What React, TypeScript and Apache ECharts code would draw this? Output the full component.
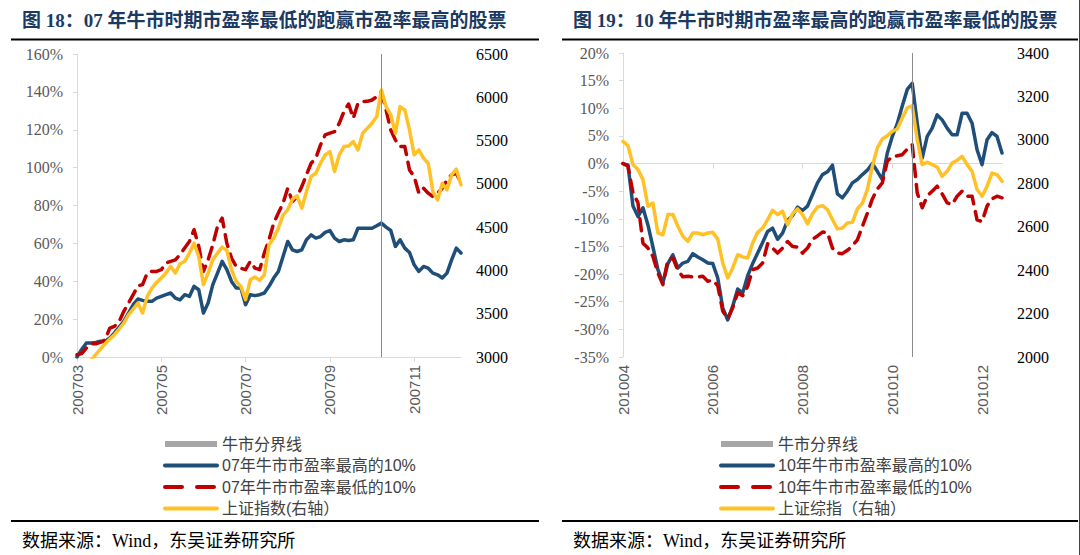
import React, { useEffect, useRef } from "react";
import * as echarts from "echarts";

// Sampling days within each month (uniform spacing on the category axis)
const DAYS = ["01", "04", "08", "11", "15", "18", "22", "25", "29"];

// ---- 2007 bull market ----
const MONTHS_2007 = ["03", "04", "05", "06", "07", "08", "09", "10", "11"];
const TAIL_2007 = ["12-01", "12-04"];
const LABEL_MONTHS_2007 = ["03", "05", "07", "09", "11"];
const DIVIDER_2007 = "2007-10-08";

const HIGH_PE_07 = [
  0, 4, 7.4, 7.4, 7.7, 8.3, 8.3, 10, 12.7, 15.8,
  18.8, 23.2, 27.6, 30.6, 29.9, 29.4, 29.4, 31.1, 32, 32.9,
  33.8, 31.1, 30.2, 32.9, 32, 37.3, 35.5, 23.2, 28.5, 38.2,
  44.3, 50.5, 46.1, 39.9, 36.4, 36.4, 27.6, 32.9, 32.4, 32.9,
  33.8, 37.3, 41.7, 45.2, 53.1, 61, 56.6, 55.7, 56.6, 61.9,
  64.5, 62.8, 63.6, 65.8, 66.8, 62.8, 61, 61.9, 61.5, 61.9,
  68, 68, 68, 68, 69.3, 70.7, 68.6, 66.8, 58.4, 61.9,
  57.5, 55.2, 48.7, 45.2, 47.8, 46.9, 44.3, 43.4, 41.7, 44.3,
  51.3, 57.5, 54.9,
];
const LOW_PE_07 = [
  1.2, 1.8, 4.7, 7, 7, 7.7, 9.1, 15.3, 16.2, 18.8,
  24.1, 28.5, 32.9, 37.6, 38.2, 44.3, 45.2, 45.2, 46.1, 49.6,
  50.5, 51.3, 54, 57.5, 61, 67.2, 58.4, 45.2, 51.3, 59.3,
  68.9, 73.3, 60.1, 52.2, 47.8, 46.9, 46.1, 50.5, 46.9, 46.1,
  54.9, 61.9, 70.7, 76, 81.2, 89.1, 82.1, 84.7, 90, 96.2,
  102.3, 105, 112, 117.3, 118.2, 119, 123.4, 129.6, 133.6, 126.1,
  134, 134.9, 135, 135.7, 137.5, 140.1, 130.5, 119.9, 114.6, 111.1,
  111.1, 98.8, 95.3, 86.5, 89.1, 86.5, 84.7, 86.5, 89.1, 93.5,
  96.2, 97, 91.8,
];
const SH_INDEX_07 = [
  2880, 2900, 2930, 2965, 3027, 3092, 3154, 3208, 3258, 3323,
  3392, 3488, 3554, 3623, 3508, 3700, 3796, 3862, 3912, 3969,
  4046, 3969, 4077, 4104, 4200, 4315, 4161, 3835, 3969, 4123,
  4200, 4269, 4231, 4008, 3873, 3815, 3662, 3892, 3923, 3885,
  3950, 4296, 4373, 4488, 4642, 4700, 4823, 4862, 4719, 4911,
  5085, 5123, 5238, 5334, 5373, 5142, 5334, 5431, 5438, 5488,
  5392, 5585, 5642, 5700, 5777, 6085, 5892, 5796, 5585, 5892,
  5854, 5623, 5335, 5392, 5296, 5238, 4911, 4815, 5008, 4931,
  5104, 5169, 4988,
];

// ---- 2010 bull market ----
const MONTHS_2010 = ["04", "05", "06", "07", "08", "09", "10", "11"];
const TAIL_2010 = ["12-01", "12-04", "12-08", "12-11", "12-15"];
const LABEL_MONTHS_2010 = ["04", "06", "08", "10", "12"];
const DIVIDER_2010 = "2010-10-15";

const HIGH_PE_10 = [
  0, -0.3, -7.7, -9.6, -8, -11.1, -15.1, -19.2, -21.6, -18.1,
  -16.5, -18.9, -18, -17.7, -16.3, -16.9, -17.4, -18, -18.1, -20.7,
  -26.1, -28.3, -25.8, -22.7, -23.4, -20.3, -18.1, -16.2, -14.3, -12.3,
  -11.7, -13.7, -12.6, -10.3, -9.4, -7.9, -8.5, -7.7, -5.6, -3.5,
  -2, -1.5, -0.3, -5.5, -6.2, -5, -3.5, -2.9, -2, -1.2,
  0, -1.4, -2.9, 1.9, 4.9, 7.2, 10.4, 13.4, 14.5, 7.3,
  1.0, 4.9, 6.4, 8.8, 7.9, 6.4, 5.2, 5.2, 9.1, 9.1,
  7.3, 2.5, -0.2, 4.3, 5.6, 4.9, 1.9,
];
const LOW_PE_10 = [
  0, -0.5, -5.3, -7.1, -14.4, -15.3, -16.8, -19.8, -21.9, -17.4,
  -17.1, -19.3, -20.5, -20.4, -20.5, -20.5, -20.4, -21.3, -21.1, -22.1,
  -26.7, -28.1, -26.1, -23.4, -23.9, -22.2, -19.2, -18.9, -18, -14.5,
  -15.3, -16.2, -15.3, -14.1, -15, -15.1, -16.2, -15.3, -13.7, -13.1,
  -12.4, -12.5, -15.3, -16.2, -16.3, -15.7, -14.9, -13.8, -11.4, -9,
  -6.4, -4.6, -3.5, 0.4, 1.3, 1.4, 1.6, 2.6, 3.4, -5.3,
  -8, -5.9, -5, -4.1, -5.5, -7.1, -7.4, -5.9, -5, -5.9,
  -5.9, -10.2, -10.5, -7.7, -6.4, -5.9, -6.2,
];
const SH_COMP_10 = [
  2993, 2973, 2886, 2863, 2817, 2694, 2709, 2571, 2563, 2656,
  2656, 2602, 2556, 2533, 2571, 2571, 2563, 2571, 2574, 2543,
  2433, 2364, 2410, 2471, 2461, 2456, 2525, 2574, 2594, 2633,
  2675, 2656, 2671, 2609, 2660, 2682, 2656, 2614, 2660, 2691,
  2697, 2679, 2633, 2590, 2594, 2617, 2620, 2682, 2709, 2771,
  2878, 2963, 3004, 3019, 3039, 3050, 3101, 3147, 3157, 3001,
  2886, 2897, 2886, 2875, 2832, 2855, 2893, 2906, 2924, 2886,
  2855, 2771, 2740, 2786, 2847, 2840, 2809,
];

// Series / legend names
const DIVIDER_NAME = "牛市分界线";
const NAMES_07 = ["07年牛市市盈率最高的10%", "07年牛市市盈率最低的10%", "上证指数(右轴）"];
const NAMES_10 = ["10年牛市市盈率最高的10%", "10年牛市市盈率最低的10%", "上证综指（右轴）"];

const TITLE_07 = "图 18：07 年牛市时期市盈率最低的跑赢市盈率最高的股票";
const TITLE_10 = "图 19：10 年牛市时期市盈率最高的跑赢市盈率最低的股票";
const SOURCE = "数据来源：Wind，东吴证券研究所";

const BLUE = "#1F4E79";
const RED = "#C00000";
const YELLOW = "#FFC125";
const GRAY_BAR = "#A6A6A6";
const AXIS_GRAY = "#D9D9D9";

const SERIF = "'Liberation Serif', 'Noto Sans CJK SC', serif";
const SANS = "'Liberation Sans', 'Noto Sans CJK SC', sans-serif";

const buildDates = (year: string, months: string[], tail: string[]) => [
  ...months.flatMap((m) => DAYS.map((d) => `${year}-${m}-${d}`)),
  ...tail.map((t) => `${year}-${t}`),
];

const monthStart = (labels: string[]) => (_: number, v: string) =>
  v.slice(8) === "01" && labels.includes(v.slice(5, 7));

const ymLabel = (v: string) => v.slice(0, 4) + v.slice(5, 7);

function buildOption() {
  const dates07 = buildDates("2007", MONTHS_2007, TAIL_2007);
  const dates10 = buildDates("2010", MONTHS_2010, TAIL_2010);
  const show07 = monthStart(LABEL_MONTHS_2007);
  const show10 = monthStart(LABEL_MONTHS_2010);

  const xLabel = (fn: any) => ({
    interval: fn,
    formatter: ymLabel,
    rotate: 90,
    margin: 8,
    color: "#595959",
    fontSize: 15,
    fontFamily: SANS,
  });

  const leftY = (min: number, max: number, step: number, grid: number) => ({
    type: "value",
    gridIndex: grid,
    position: "left",
    min,
    max,
    interval: step,
    splitLine: { show: false },
    axisLine: { show: true, onZero: false, lineStyle: { color: AXIS_GRAY, width: 1 } },
    axisTick: { show: true, length: 4, lineStyle: { color: AXIS_GRAY } },
    axisLabel: {
      formatter: "{value}%",
      color: "#595959",
      fontSize: 16,
      fontFamily: SERIF,
      margin: 14,
    },
  });

  const rightY = (min: number, max: number, step: number, grid: number) => ({
    type: "value",
    gridIndex: grid,
    position: "right",
    min,
    max,
    interval: step,
    splitLine: { show: false },
    axisLine: { show: false, onZero: false },
    axisTick: { show: false },
    axisLabel: {
      formatter: (v: number) => String(v),
      color: "#000",
      fontSize: 16,
      fontFamily: SERIF,
      margin: 15,
    },
  });

  const line = (name: string, data: number[], color: string, xi: number, yi: number, dashed = false) => ({
    type: "line",
    name,
    data,
    xAxisIndex: xi,
    yAxisIndex: yi,
    symbol: "none",
    silent: true,
    lineStyle: { color, width: 3.5, type: dashed ? [12, 8] : "solid", cap: "round", join: "round" },
    itemStyle: { color },
    emphasis: { disabled: true },
  });

  const divider = (at: string, xi: number, yi: number) => ({
    type: "line",
    name: DIVIDER_NAME,
    data: [],
    xAxisIndex: xi,
    yAxisIndex: yi,
    symbol: "none",
    lineStyle: { color: GRAY_BAR, width: 6 },
    itemStyle: { color: GRAY_BAR },
    markLine: {
      silent: true,
      symbol: ["none", "none"],
      label: { show: false },
      lineStyle: { color: "#8C8C8C", width: 1, type: "solid" },
      emphasis: { disabled: true },
      data: [{ xAxis: at }],
    },
  });

  const legend = (left: number, names: string[]) => ({
    left,
    top: 431,
    orient: "vertical",
    itemWidth: 52,
    itemHeight: 6,
    itemGap: 5.5,
    selectedMode: false,
    // the line icons carry no marker
    itemStyle: { opacity: 0 },
    textStyle: { fontFamily: SANS, fontSize: 16, color: "#404040", lineHeight: 16 },
    data: [
      { name: DIVIDER_NAME, icon: "rect", itemStyle: { color: GRAY_BAR, opacity: 1 } },
      { name: names[0], lineStyle: { width: 4 } },
      { name: names[1], lineStyle: { width: 4, type: [17, 15] } },
      { name: names[2], lineStyle: { width: 4 } },
    ],
  });

  const rule = (x1: number, x2: number, y: number) => ({
    type: "line",
    silent: true,
    shape: { x1, y1: y, x2, y2: y },
    style: { stroke: "#000", lineWidth: 2 },
  });

  const text = (x: number, y: number, t: string, opts: any) => ({
    type: "text",
    x,
    y,
    silent: true,
    style: { text: t, verticalAlign: "middle", ...opts },
  });

  const titleStyle = { fontSize: 19, fontWeight: "bold", fontFamily: SERIF, fill: "#1B3A63" };
  const sourceStyle = { fontSize: 18, fontFamily: SERIF, fill: "#000" };

  return {
    animation: false,
    backgroundColor: "#fff",
    grid: [
      { left: 77, top: 54, width: 384, height: 303 },
      { left: 623, top: 53, width: 379, height: 304 },
    ],
    xAxis: [
      {
        type: "category",
        gridIndex: 0,
        position: "bottom",
        data: dates07,
        boundaryGap: false,
        axisLine: { show: true, lineStyle: { color: AXIS_GRAY, width: 1 } },
        axisTick: { show: true, interval: show07, length: 5, lineStyle: { color: AXIS_GRAY } },
        axisLabel: xLabel(show07),
      },
      {
        type: "category",
        gridIndex: 1,
        position: "bottom",
        data: dates10,
        boundaryGap: false,
        axisLine: { show: true, onZero: true, onZeroAxisIndex: 2, lineStyle: { color: AXIS_GRAY, width: 1 } },
        axisTick: { show: true, interval: show10, length: 5, lineStyle: { color: AXIS_GRAY } },
        axisLabel: { show: false },
      },
      {
        type: "category",
        gridIndex: 1,
        position: "bottom",
        offset: 0,
        data: dates10,
        boundaryGap: false,
        axisLine: { show: false, onZero: false },
        axisTick: { show: false },
        axisLabel: xLabel(show10),
      },
    ],
    yAxis: [
      leftY(0, 160, 20, 0),
      rightY(3000, 6500, 500, 0),
      leftY(-35, 20, 5, 1),
      rightY(2000, 3400, 200, 1),
    ],
    legend: [legend(158, NAMES_07), legend(714, NAMES_10)],
    series: [
      divider(DIVIDER_2007, 0, 0),
      line(NAMES_07[0], HIGH_PE_07, BLUE, 0, 0),
      line(NAMES_07[1], LOW_PE_07, RED, 0, 0, true),
      line(NAMES_07[2], SH_INDEX_07, YELLOW, 0, 1),
      divider(DIVIDER_2010, 1, 2),
      line(NAMES_10[0], HIGH_PE_10, BLUE, 1, 2),
      line(NAMES_10[1], LOW_PE_10, RED, 1, 2, true),
      line(NAMES_10[2], SH_COMP_10, YELLOW, 1, 3),
    ],
    graphic: [
      text(22, 20, TITLE_07, titleStyle),
      text(573, 20, TITLE_10, titleStyle),
      rule(11, 539, 39.5),
      rule(562, 1078, 39.5),
      rule(11, 539, 521),
      rule(562, 1078, 521),
      text(22, 541, SOURCE, sourceStyle),
      text(573, 541, SOURCE, sourceStyle),
      {
        type: "line",
        silent: true,
        shape: { x1: 1079.5, y1: 0, x2: 1079.5, y2: 555 },
        style: { stroke: "#444", lineWidth: 1 },
      },
    ],
  };
}

export default function App() {
  const ref = useRef<HTMLDivElement>(null);
  useEffect(() => {
    if (!ref.current) return;
    const chart = echarts.init(ref.current, null, { renderer: "svg" });
    chart.setOption(buildOption() as any);
    return () => chart.dispose();
  }, []);
  return (
    <div
      ref={ref}
      style={{ position: "fixed", left: 0, top: 0, width: 1080, height: 555, background: "#fff" }}
    />
  );
}
